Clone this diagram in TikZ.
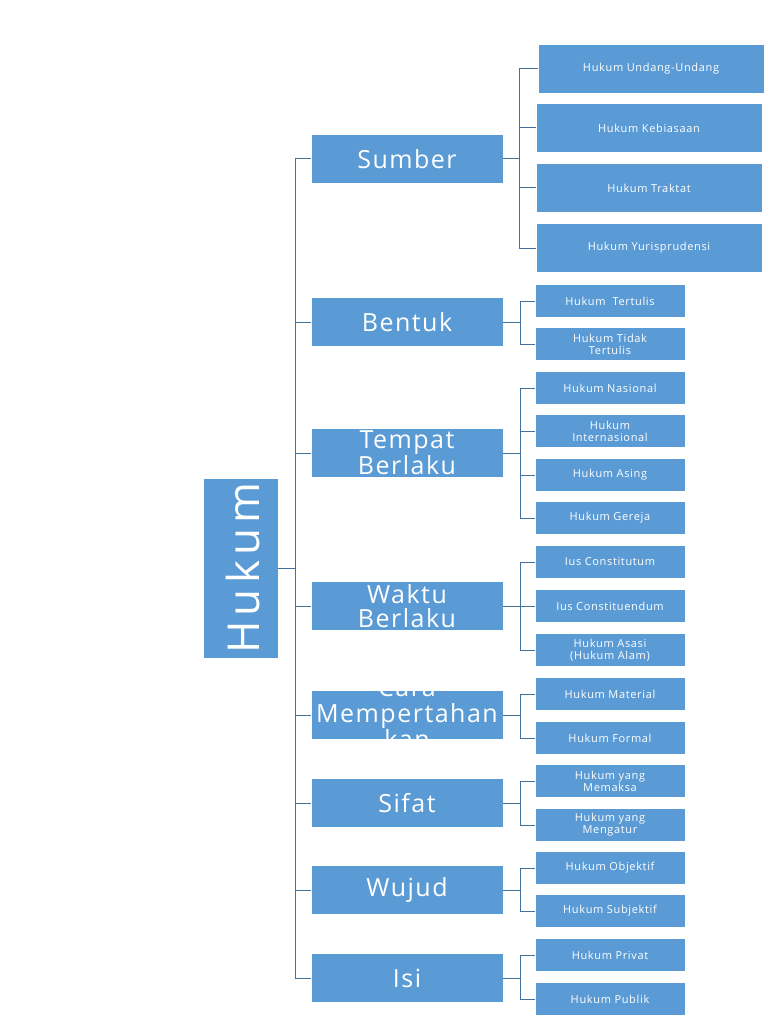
\documentclass[tikz,border=0pt]{standalone}
\usepackage{fontspec}
\setmainfont{Open Sans}[LetterSpace=6]
\definecolor{bx}{HTML}{5B9BD5}
\definecolor{ln}{HTML}{41719C}
\begin{document}
\begin{tikzpicture}[x=1pt,y=-1pt,
 box/.style={fill=bx,draw=white,line width=0.8pt,inner sep=0pt,text=white,align=center},
 mid/.style={box,minimum width=192pt,minimum height=49pt,font=\fontsize{25}{24}\selectfont},
 leaf/.style={box,minimum width=150pt,minimum height=33pt,font=\fontsize{11}{12}\selectfont},
 bigleaf/.style={box,minimum width=226pt,minimum height=49pt,font=\fontsize{11}{12}\selectfont},
 con/.style={draw=ln,line width=1pt}]
\useasboundingbox (0,0) rectangle (768,1024);
\node[box,minimum width=75pt,minimum height=180pt] (h) at (240.5,568) {};
\node[text=white,rotate=90,font=\fontsize{44}{44}\selectfont\addfontfeature{LetterSpace=12}] (ht) at (243,568) {Hukum};
\coordinate (bus) at (295,568);
\foreach \n/\y/\t in {s/159/Sumber,b/322/Bentuk,t/453/{Tempat\\Berlaku},w/606/{Waktu\\Berlaku},sf/803/Sifat,wj/890/Wujud,i/978/Isi}{
 \node[mid] (\n) at (407,\y) {\t};
 \draw[con] (\n.west) -- ++(-16,0);
}
\begin{scope}
\node[mid,text=bx] (c) at (407,715) {};
\clip (311,691) rectangle (503,740);
\node[text=white,align=center,font=\fontsize{25}{26}\selectfont] (ct) at (407,714) {Cara\\Mempertahan\\kan};
\end{scope}
\draw[con] (c.west) -- ++(-16,0);
\draw[con] (h.east) -- (bus);
\draw[con] (295,159) -- (295,978);
% Sumber children
\node[bigleaf] (s1) at (651,69) {Hukum Undang-Undang};
\node[bigleaf] (s2) at (649,128) {Hukum Kebiasaan};
\node[bigleaf] (s3) at (649,188) {Hukum Traktat};
\node[bigleaf] (s4) at (649,248) {Hukum Yurisprudensi};
\draw[con] (s.east) -- (519,159);
\draw[con] (s1.west) -| (519,248) -- (s4.west);
\draw[con] (s2.west) -- ++(-17,0); \draw[con] (s3.west) -- ++(-17,0);
\newcommand\grp[3]{% parent, list
 \foreach \k/\y/\t [count=\j] in {#2}{
  \node[leaf] (#1l\j) at (610,\y) {\t};
  \draw[con] (#1l\j.west) -- (520,\y);
 }
 \draw[con] (#1.east) -- (520,#3);
}
\grp{b}{1/301/Hukum\ \ Tertulis,2/344/{Hukum Tidak\\Tertulis}}{322}
\draw[con] (520,301)--(520,344);
\grp{t}{1/388/Hukum Nasional,2/431/{Hukum\\Internasional},3/475/Hukum Asing,4/518/Hukum Gereja}{453}
\draw[con] (520,388)--(520,518);
\grp{w}{1/562/Ius Constitutum,2/606/Ius Constituendum,3/650/{Hukum Asasi\\(Hukum Alam)}}{606}
\draw[con] (520,562)--(520,650);
\grp{c}{1/694/Hukum Material,2/738/Hukum Formal}{715}
\draw[con] (520,694)--(520,738);
\grp{sf}{1/781/{Hukum yang\\Memaksa},2/825/{Hukum yang\\Mengatur}}{803}
\draw[con] (520,781)--(520,825);
\grp{wj}{1/868/Hukum Objektif,2/911/Hukum Subjektif}{890}
\draw[con] (520,868)--(520,911);
\grp{i}{1/955/Hukum Privat,2/999/Hukum Publik}{978}
\draw[con] (520,955)--(520,999);
\end{tikzpicture}
\end{document}
